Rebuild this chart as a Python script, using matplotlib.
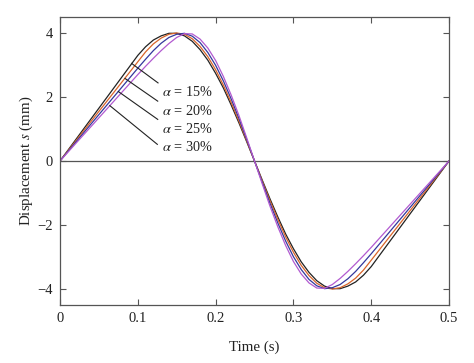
import matplotlib
matplotlib.use("Agg")
import matplotlib.pyplot as plt
from matplotlib.ticker import FuncFormatter

plt.rcParams["font.family"] = ["Liberation Serif", "DejaVu Serif"]
plt.rcParams["mathtext.fontset"] = "stix"

# time axis (s), 0.01 s steps
t = [i / 100 for i in range(51)]

# displacement (mm), one list per alpha
s_15 = [0.00, 0.33, 0.66, 0.99, 1.32, 1.65, 1.98, 2.31, 2.64, 2.97,
        3.30, 3.57, 3.78, 3.91, 3.99, 3.99, 3.91, 3.74, 3.48, 3.15,
        2.74, 2.28, 1.75, 1.19, 0.60, 0.00, -0.60, -1.19, -1.75, -2.28,
        -2.74, -3.15, -3.48, -3.74, -3.91, -3.99, -3.99, -3.91, -3.78, -3.57,
        -3.30, -2.97, -2.64, -2.31, -1.98, -1.65, -1.32, -0.99, -0.66, -0.33,
        0.00]
s_20 = [0.00, 0.31, 0.62, 0.93, 1.24, 1.55, 1.86, 2.17, 2.48, 2.79,
        3.10, 3.41, 3.66, 3.84, 3.96, 4.00, 3.96, 3.82, 3.58, 3.26,
        2.85, 2.37, 1.83, 1.25, 0.63, 0.00, -0.63, -1.25, -1.83, -2.37,
        -2.85, -3.26, -3.58, -3.82, -3.96, -4.00, -3.96, -3.84, -3.66, -3.41,
        -3.10, -2.79, -2.48, -2.17, -1.86, -1.55, -1.24, -0.93, -0.62, -0.31,
        0.00]
s_25 = [0.00, 0.29, 0.58, 0.87, 1.16, 1.45, 1.74, 2.03, 2.32, 2.61,
        2.90, 3.18, 3.45, 3.68, 3.86, 3.96, 3.99, 3.90, 3.70, 3.39,
        2.99, 2.50, 1.94, 1.33, 0.67, 0.00, -0.67, -1.33, -1.94, -2.50,
        -2.99, -3.39, -3.70, -3.90, -3.99, -3.96, -3.86, -3.68, -3.45, -3.18,
        -2.90, -2.61, -2.32, -2.03, -1.74, -1.45, -1.16, -0.87, -0.58, -0.29,
        0.00]
s_30 = [0.00, 0.27, 0.54, 0.81, 1.08, 1.35, 1.62, 1.89, 2.16, 2.43,
        2.70, 2.96, 3.21, 3.45, 3.67, 3.86, 3.98, 3.97, 3.81, 3.53,
        3.14, 2.64, 2.06, 1.42, 0.72, 0.00, -0.72, -1.42, -2.06, -2.64,
        -3.14, -3.53, -3.81, -3.97, -3.98, -3.86, -3.67, -3.45, -3.21, -2.96,
        -2.70, -2.43, -2.16, -1.89, -1.62, -1.35, -1.08, -0.81, -0.54, -0.27,
        0.00]

labels = [r"$\alpha$ = 15%", r"$\alpha$ = 20%", r"$\alpha$ = 25%", r"$\alpha$ = 30%"]
# where each pointer touches its curve, and where it ends next to the label
ptr_start = [(0.092, 3.05), (0.0835, 2.58), (0.075, 2.17), (0.064, 1.73)]
ptr_end = [(0.126, 2.44), (0.1256, 1.87), (0.1256, 1.30), (0.1251, 0.52)]
label_y = [2.15, 1.56, 1.00, 0.44]

colors = ["#222222", "#d9652a", "#34389c", "#b25ad0"]

fig = plt.figure(figsize=(4.74, 3.63), dpi=100)
ax = fig.add_axes([0.1266, 0.1598, 0.8207, 0.7934])

ax.axhline(0, color="#555555", linewidth=0.9, zorder=1)
for s, c in zip([s_15, s_20, s_25, s_30], colors):
    ax.plot(t, s, color=c, linewidth=0.9, zorder=2)

for lab, p0, p1, ly in zip(labels, ptr_start, ptr_end, label_y):
    ax.plot([p0[0], p1[0]], [p0[1], p1[1]], color="#222222", linewidth=0.8)
    ax.text(0.1315, ly, lab, fontsize=10.3, va="center", ha="left", color="#222222")

ax.set_xlim(0, 0.5)
ax.set_ylim(-4.5, 4.5)
ax.set_xticks([0, 0.1, 0.2, 0.3, 0.4, 0.5])
ax.set_yticks([-4, -2, 0, 2, 4])
ax.xaxis.set_major_formatter(FuncFormatter(lambda v, _: f"{v:g}"))
ax.tick_params(direction="in", top=True, right=True, length=4, width=0.8,
               color="#555555", labelsize=10.5, labelcolor="#222222", pad=5)
for sp in ax.spines.values():
    sp.set_color("#555555")
    sp.set_linewidth(0.9)

ax.set_xlabel("Time (s)", fontsize=10.8, color="#222222", labelpad=11)
ax.set_ylabel("Displacement $s$ (mm)", fontsize=10.8, color="#222222", labelpad=2)

fig.savefig("out.png", dpi=100)
